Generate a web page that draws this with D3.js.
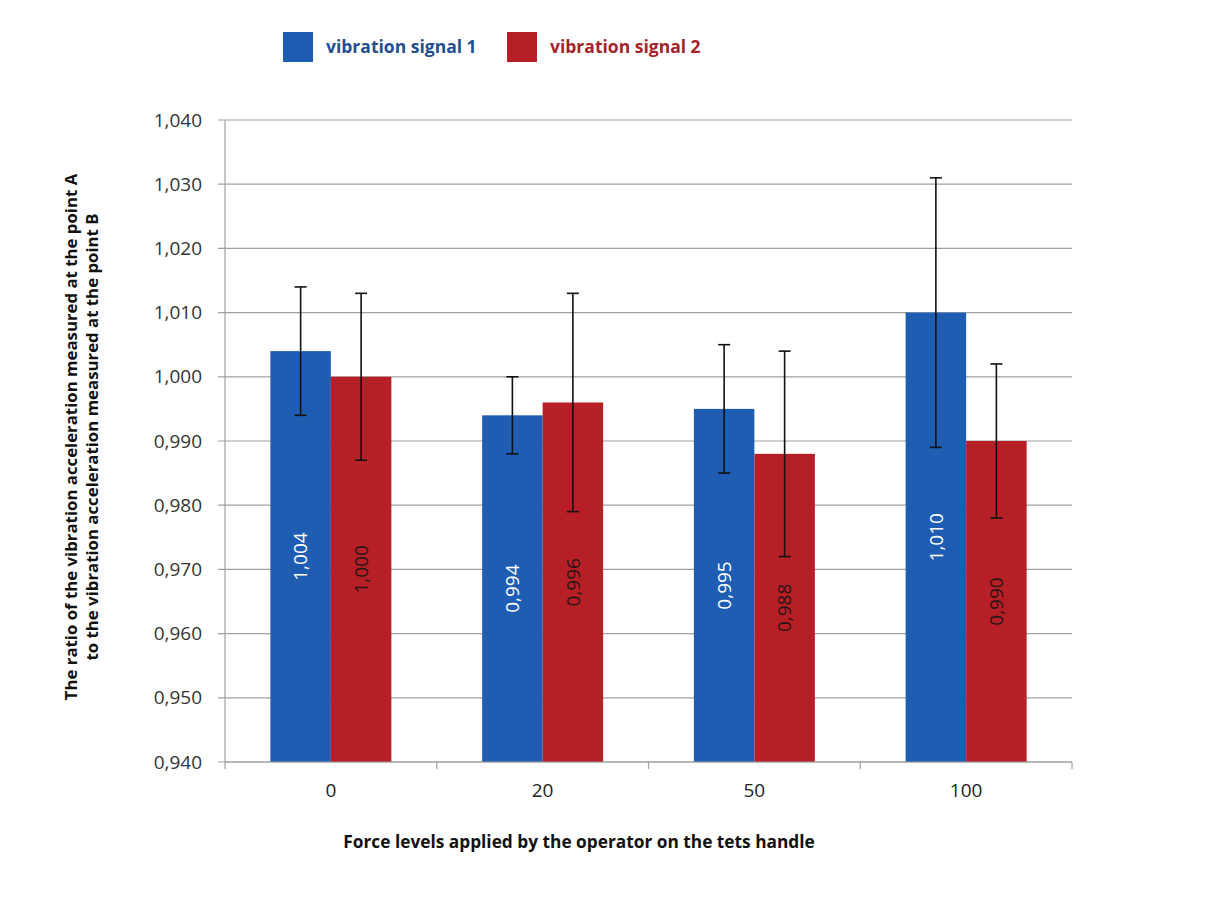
<!DOCTYPE html>
<html>
<head>
<meta charset="utf-8">
<script src="https://cdn.jsdelivr.net/npm/d3@7"></script>
<style>
  body { margin: 0; background: #fff; }
  text { font-family: "Open Sans", sans-serif; }
</style>
</head>
<body>
<svg id="chart" width="1231" height="914"></svg>
<script>
// force levels (x categories)
var categories = ["0", "20", "50", "100"];
var seriesNames = ["vibration signal 1", "vibration signal 2"];
// mean ratios
var signal1 = [1.004, 0.994, 0.995, 1.010];
var signal2 = [1.000, 0.996, 0.988, 0.990];
// error bar half widths
var err1 = [0.010, 0.006, 0.010, 0.021];
var err2 = [0.013, 0.017, 0.016, 0.012];
var yTicks = [0.94, 0.95, 0.96, 0.97, 0.98, 0.99, 1.00, 1.01, 1.02, 1.03, 1.04];

var colors = ["#1f5db3", "#b71f27"];
var legendColors = ["#1f4f8f", "#a3252b"];
var labelColors = ["#ffffff", "#2a1414"];

var svg = d3.select("#chart");
var pLeft = 225, pRight = 1072, pTop = 120, pBottom = 762;

var x = d3.scaleBand().domain(categories).range([pLeft, pRight]);
var x1 = d3.scaleBand().domain([0, 1]).range([0, 121]);
var y = d3.scaleLinear().domain([0.94, 1.04]).range([pBottom, pTop]);
var fmt = function (v) { return d3.format(".3f")(v).replace(".", ","); };

// grid
svg.append("g").selectAll("line")
    .data(yTicks)
    .enter().append("line")
    .attr("x1", pLeft - 7).attr("x2", pRight)
    .attr("y1", function (d) { return y(d); })
    .attr("y2", function (d) { return y(d); })
    .attr("stroke", "#a0a0a0").attr("stroke-width", 1.2);

// y axis line
svg.append("line")
    .attr("x1", pLeft).attr("x2", pLeft).attr("y1", pTop).attr("y2", pBottom)
    .attr("stroke", "#a0a0a0").attr("stroke-width", 1.2);

// y tick labels
svg.append("g").selectAll("text")
    .data(yTicks)
    .enter().append("text")
    .attr("x", pLeft - 23)
    .attr("y", function (d) { return y(d); })
    .attr("dy", "0.35em")
    .attr("text-anchor", "end")
    .attr("font-size", 19)
    .attr("fill", "#333")
    .text(fmt);

// x tick marks
var xb = categories.map(function (c) { return x(c); }).concat([pRight]);
svg.append("g").selectAll("line")
    .data(xb)
    .enter().append("line")
    .attr("x1", function (d) { return d; }).attr("x2", function (d) { return d; })
    .attr("y1", pBottom).attr("y2", pBottom + 7)
    .attr("stroke", "#a0a0a0").attr("stroke-width", 1.2);

// x labels
svg.append("g").selectAll("text")
    .data(categories)
    .enter().append("text")
    .attr("x", function (d) { return x(d) + x.bandwidth() / 2; })
    .attr("y", 797)
    .attr("text-anchor", "middle")
    .attr("font-size", 19)
    .attr("fill", "#222")
    .text(function (d) { return d; });

// bars
var rows = [];
categories.forEach(function (c, i) {
    rows.push({ cat: c, s: 0, v: signal1[i], e: err1[i] });
    rows.push({ cat: c, s: 1, v: signal2[i], e: err2[i] });
});
var bx = function (d) { return x(d.cat) + x.bandwidth() / 2 - 60.5 + x1(d.s); };

svg.append("g").selectAll("rect")
    .data(rows)
    .enter().append("rect")
    .attr("x", bx)
    .attr("width", x1.bandwidth())
    .attr("y", function (d) { return y(d.v); })
    .attr("height", function (d) { return pBottom - y(d.v); })
    .attr("fill", function (d) { return colors[d.s]; });

// x axis line on top of bars
svg.append("line")
    .attr("x1", pLeft).attr("x2", pRight).attr("y1", pBottom).attr("y2", pBottom)
    .attr("stroke", "#a0a0a0").attr("stroke-width", 1.2);

// value labels
svg.append("g").selectAll("text")
    .data(rows)
    .enter().append("text")
    .attr("transform", function (d) {
        var cx = bx(d) + x1.bandwidth() / 2;
        var cy = (y(d.v) + pBottom) / 2;
        return "translate(" + cx + "," + cy + ") rotate(-90)";
    })
    .attr("text-anchor", "middle")
    .attr("dy", "0.35em")
    .attr("font-size", 19)
    .attr("fill", function (d) { return labelColors[d.s]; })
    .text(function (d) { return fmt(d.v); });

// error bars
var eb = svg.append("g").attr("stroke", "#111").attr("stroke-width", 1.6);
rows.forEach(function (d) {
    var cx = bx(d) + x1.bandwidth() / 2;
    eb.append("line").attr("x1", cx).attr("x2", cx)
        .attr("y1", y(d.v + d.e)).attr("y2", y(d.v - d.e));
    [d.v + d.e, d.v - d.e].forEach(function (v) {
        eb.append("line").attr("x1", cx - 6).attr("x2", cx + 6)
            .attr("y1", y(v)).attr("y2", y(v));
    });
});

// legend
var lg = svg.append("g").selectAll("g")
    .data(seriesNames)
    .enter().append("g")
    .attr("transform", function (d, i) { return "translate(" + (283 + i * 224) + ",32)"; });
lg.append("rect").attr("width", 30).attr("height", 30)
    .attr("fill", function (d, i) { return colors[i]; });
lg.append("text")
    .attr("x", 43).attr("y", 21)
    .attr("font-size", 17.5).attr("font-weight", "bold")
    .attr("fill", function (d, i) { return legendColors[i]; })
    .text(function (d) { return d; });

// axis titles
svg.append("text")
    .attr("x", 579).attr("y", 848)
    .attr("text-anchor", "middle")
    .attr("font-size", 17.3).attr("font-weight", "bold")
    .attr("fill", "#111")
    .text("Force levels applied by the operator on the tets handle");

var yt = svg.append("text")
    .attr("transform", "translate(77,437) rotate(-90)")
    .attr("text-anchor", "middle")
    .attr("font-size", 16.8).attr("font-weight", "bold")
    .attr("fill", "#111");
yt.append("tspan").attr("x", 0).attr("dy", 0)
    .text("The ratio of the vibration acceleration measured at the point A");
yt.append("tspan").attr("x", 0).attr("dy", 21)
    .text("to the vibration acceleration measured at the point B");
</script>
</body>
</html>
